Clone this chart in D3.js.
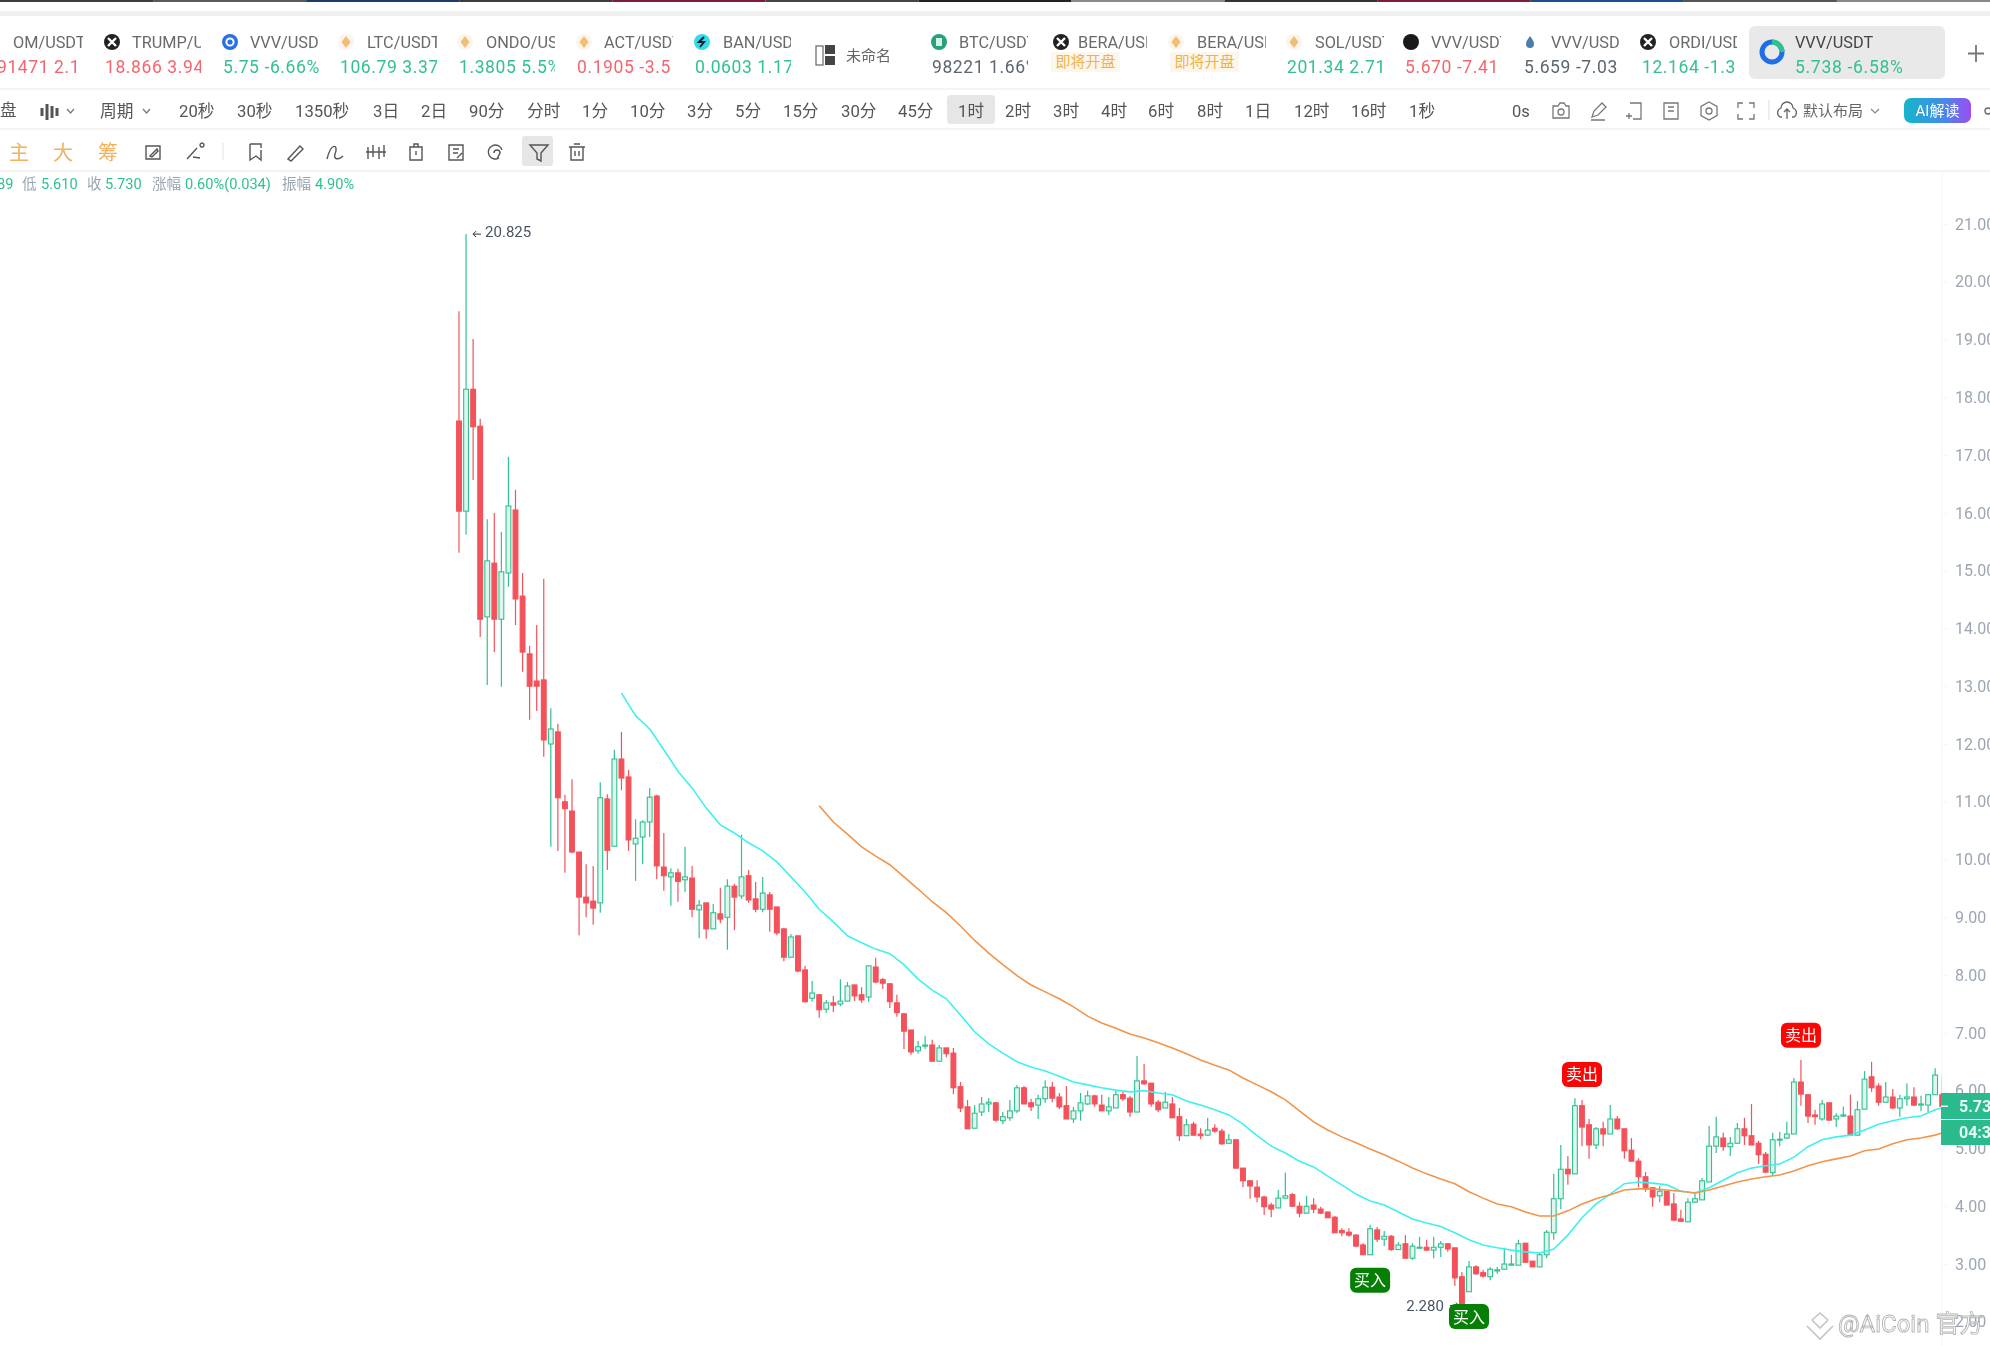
<!DOCTYPE html>
<html>
<head>
<meta charset="utf-8">
<script src="https://cdn.jsdelivr.net/npm/d3@7"></script>
<style>
html, body { margin: 0; padding: 0; background: #fff; overflow: hidden; }
svg { display: block; filter: blur(0.4px); font-family: Roboto, "Noto Sans CJK SC", sans-serif; }
</style>
</head>
<body>
<script>
// 1 hour candles, [open, high, low, close]
var candles = [
[17.59,19.49,15.31,16.03],[16.03,20.825,15.62,18.14],[18.14,19.01,16.57,17.49],[17.50,17.63,13.85,14.16],
[14.20,15.89,13.02,15.17],[15.13,16.00,13.59,14.16],[14.16,15.67,12.99,14.98],[14.96,16.97,14.72,16.12],
[16.05,16.40,14.06,14.51],[14.56,14.96,13.25,13.59],[13.56,13.70,12.42,13.00],[13.09,14.06,12.57,13.00],
[13.11,14.86,11.78,12.07],[12.00,12.62,10.22,12.26],[12.21,12.35,10.15,11.07],[11.00,11.12,9.77,10.88],
[10.84,11.39,10.11,10.13],[10.13,10.13,8.69,9.35],[9.35,9.92,9.00,9.25],[9.28,9.89,8.87,9.16],
[9.25,11.34,9.08,11.07],[11.05,11.13,9.82,10.16],[10.23,11.90,10.23,11.74],[11.74,12.21,11.20,11.41],
[11.43,11.55,10.15,10.34],[10.27,10.70,9.63,10.37],[10.39,10.68,9.92,10.65],[10.65,11.24,10.39,11.08],
[11.10,11.12,9.66,9.89],[9.87,10.46,9.46,9.72],[9.70,9.85,9.20,9.77],[9.77,9.84,9.27,9.62],
[9.65,10.22,9.44,9.70],[9.68,9.89,9.00,9.14],[9.13,9.30,8.64,9.21],[9.25,9.25,8.63,8.80],
[8.80,9.23,8.80,9.08],[9.06,9.51,8.90,8.97],[9.00,9.66,8.44,9.54],[9.54,9.58,8.78,9.35],
[9.37,10.43,9.32,9.70],[9.72,9.82,9.25,9.30],[9.32,9.61,9.09,9.14],[9.14,9.70,9.09,9.42],
[9.39,9.44,8.75,9.14],[9.18,9.18,8.69,8.73],[8.80,8.82,8.24,8.31],[8.31,8.71,8.31,8.66],
[8.68,8.68,8.05,8.07],[8.09,8.16,7.52,7.54],[7.60,7.90,7.54,7.69],[7.66,7.66,7.26,7.40],
[7.41,7.57,7.35,7.52],[7.52,7.64,7.36,7.48],[7.50,7.93,7.46,7.55],[7.55,7.88,7.55,7.81],
[7.83,7.83,7.55,7.64],[7.66,7.79,7.52,7.57],[7.62,8.16,7.54,8.16],[8.14,8.30,7.86,7.88],
[7.92,7.95,7.76,7.86],[7.85,7.86,7.43,7.54],[7.52,7.66,7.28,7.35],[7.33,7.35,6.72,7.03],
[7.05,7.05,6.62,6.67],[6.69,6.86,6.64,6.76],[6.77,6.95,6.72,6.79],[6.79,6.88,6.51,6.51],
[6.51,6.79,6.51,6.74],[6.74,6.74,6.58,6.64],[6.65,6.74,5.94,6.05],[6.07,6.15,5.63,5.70],
[5.72,5.84,5.34,5.34],[5.35,5.75,5.35,5.61],[5.63,5.89,5.56,5.77],[5.77,5.87,5.63,5.80],
[5.79,5.80,5.46,5.49],[5.48,5.63,5.42,5.55],[5.53,5.84,5.48,5.65],[5.65,6.10,5.61,6.05],
[6.05,6.08,5.77,5.77],[5.79,5.86,5.65,5.72],[5.75,5.93,5.51,5.86],[5.86,6.18,5.79,6.06],
[6.06,6.15,5.80,5.87],[5.89,5.96,5.68,5.72],[5.74,6.08,5.51,5.51],[5.51,5.72,5.44,5.65],
[5.65,5.96,5.48,5.79],[5.77,6.00,5.75,5.91],[5.91,5.93,5.72,5.77],[5.75,5.93,5.65,5.65],
[5.65,5.89,5.58,5.72],[5.70,6.00,5.70,5.93],[5.93,5.98,5.82,5.86],[5.87,5.91,5.55,5.63],
[5.63,6.60,5.63,6.17],[6.17,6.46,6.10,6.12],[6.13,6.13,5.72,5.77],[5.80,5.84,5.63,5.67],
[5.70,5.98,5.70,5.80],[5.77,5.89,5.53,5.53],[5.55,5.70,5.13,5.22],[5.22,5.51,5.22,5.41],
[5.42,5.46,5.22,5.23],[5.25,5.35,5.16,5.22],[5.23,5.53,5.22,5.32],[5.35,5.42,5.27,5.30],
[5.30,5.34,5.06,5.08],[5.09,5.25,5.09,5.15],[5.15,5.15,4.65,4.66],[4.66,4.66,4.33,4.44],
[4.44,4.45,4.13,4.35],[4.33,4.45,4.07,4.16],[4.16,4.18,3.85,3.99],[4.02,4.06,3.81,3.95],
[3.97,4.28,3.97,4.14],[4.14,4.58,4.14,4.18],[4.20,4.23,3.99,4.00],[4.00,4.07,3.81,3.88],
[3.88,4.18,3.88,4.00],[4.02,4.14,3.88,3.95],[3.95,3.99,3.87,3.88],[3.90,3.90,3.80,3.80],
[3.81,3.83,3.54,3.54],[3.58,3.62,3.48,3.54],[3.55,3.62,3.47,3.50],[3.50,3.52,3.29,3.31],
[3.33,3.36,3.16,3.16],[3.16,3.68,3.16,3.61],[3.59,3.64,3.38,3.43],[3.43,3.57,3.31,3.48],
[3.48,3.50,3.23,3.25],[3.25,3.38,3.25,3.33],[3.35,3.50,3.10,3.10],[3.10,3.36,3.07,3.31],
[3.28,3.47,3.28,3.29],[3.29,3.42,3.23,3.24],[3.24,3.47,3.10,3.29],[3.29,3.40,3.12,3.35],
[3.35,3.36,3.21,3.26],[3.28,3.28,2.62,2.76],[2.78,2.86,2.28,2.31],[2.52,3.05,2.52,2.95],
[2.95,2.98,2.81,2.83],[2.85,2.90,2.76,2.79],[2.78,2.95,2.72,2.91],[2.88,2.95,2.83,2.90],
[2.91,3.28,2.91,3.00],[2.98,3.16,2.98,3.00],[2.98,3.42,2.98,3.35],[3.36,3.36,3.03,3.03],
[3.05,3.05,2.95,2.95],[2.95,3.19,2.95,3.16],[3.16,3.59,3.10,3.55],[3.54,4.56,3.42,4.13],
[4.13,5.06,3.95,4.64],[4.64,4.87,4.37,4.56],[4.56,5.87,4.56,5.74],[5.74,5.84,5.04,5.37],
[5.41,5.51,4.82,5.06],[5.06,5.37,4.99,5.34],[5.34,5.46,5.04,5.25],[5.25,5.75,5.25,5.51],
[5.51,5.56,5.32,5.34],[5.34,5.34,4.82,4.96],[4.97,5.18,4.77,4.78],[4.78,4.83,4.33,4.51],
[4.51,4.59,4.25,4.30],[4.32,4.33,3.99,4.16],[4.18,4.35,4.07,4.26],[4.26,4.26,4.02,4.02],
[4.04,4.23,3.74,3.76],[3.78,3.94,3.73,3.74],[3.73,4.14,3.73,4.07],[4.07,4.25,4.06,4.13],
[4.11,4.49,4.11,4.44],[4.42,5.39,4.42,5.04],[5.04,5.55,4.92,5.20],[5.18,5.27,4.96,5.03],
[5.03,5.20,4.87,5.09],[5.09,5.44,5.09,5.34],[5.34,5.53,5.06,5.22],[5.22,5.77,5.06,5.06],
[5.09,5.13,4.73,4.89],[4.90,4.94,4.58,4.59],[4.58,5.27,4.52,5.15],[5.15,5.29,5.04,5.16],
[5.18,5.46,5.16,5.25],[5.25,6.22,5.25,6.15],[6.15,6.53,5.74,5.94],[5.93,5.94,5.44,5.56],
[5.58,5.67,5.41,5.55],[5.51,5.84,5.48,5.77],[5.79,5.79,5.48,5.49],[5.51,5.61,5.37,5.56],
[5.56,5.72,5.55,5.58],[5.56,5.93,5.23,5.23],[5.23,5.82,5.22,5.67],[5.68,6.34,5.68,6.20],
[6.24,6.50,5.98,6.05],[6.08,6.13,5.74,5.80],[5.80,6.15,5.80,5.89],[5.89,6.03,5.68,5.70],
[5.70,5.93,5.55,5.86],[5.86,6.13,5.74,5.89],[5.89,6.06,5.74,5.75],[5.75,5.91,5.65,5.77],
[5.75,5.94,5.63,5.93],[5.93,6.39,5.93,6.27],[5.93,6.25,5.61,5.73]
];

// moving averages, one reading every second candle
var fastStart = 23;
var fastValues = [12.88,12.49,12.26,11.90,11.53,11.24,10.89,10.60,10.46,10.29,10.15,9.96,9.70,9.44,9.14,8.92,8.68,8.56,8.45,8.37,
8.18,7.93,7.74,7.59,7.31,7.02,6.81,6.65,6.50,6.41,6.34,6.25,6.15,6.10,6.05,6.01,5.98,6.00,5.96,5.93,
5.82,5.75,5.67,5.58,5.42,5.22,5.04,4.92,4.78,4.68,4.52,4.37,4.21,4.09,4.02,3.90,3.78,3.71,3.65,3.54,
3.42,3.33,3.28,3.24,3.21,3.19,3.26,3.50,3.80,4.04,4.21,4.39,4.42,4.40,4.37,4.26,4.23,4.32,4.45,4.58,
4.66,4.70,4.73,4.85,5.03,5.15,5.20,5.23,5.32,5.42,5.48,5.53,5.56,5.67];
var slowStart = 51;
var slowValues = [10.93,10.65,10.44,10.22,10.06,9.91,9.70,9.49,9.27,9.08,8.85,8.60,8.38,8.18,7.99,7.83,7.71,7.59,7.45,7.29,
7.17,7.08,6.98,6.91,6.83,6.74,6.64,6.53,6.44,6.36,6.22,6.10,5.98,5.84,5.65,5.46,5.32,5.20,5.10,4.99,
4.89,4.78,4.66,4.56,4.47,4.39,4.25,4.14,4.04,3.99,3.90,3.83,3.83,3.92,4.04,4.13,4.20,4.28,4.30,4.30,
4.28,4.26,4.23,4.28,4.35,4.42,4.47,4.51,4.54,4.61,4.70,4.77,4.82,4.87,4.96,4.99,5.08,5.15,5.18,5.23];
var lastFast = 5.70, lastSlow = 5.27;

var priceTicks = [21,20,19,18,17,16,15,14,13,12,11,10,9,8,7,6,5,4,3,2];

// buy / sell flags
var signalIdx = [129, 143, 159, 190];
var signalPrice = [2.72, 2.09, 6.28, 6.96];
var signalText = ["买入", "买入", "卖出", "卖出"];

var highPoint = 1, lowPoint = 142;
var lastPriceLabel = "5.730", countdownLabel = "04:33";

// quote tabs
var tabNames = ["OM/USDT","TRUMP/USDT","VVV/USDT","LTC/USDT","ONDO/USDT","ACT/USDT","BAN/USDT","BTC/USDT","BERA/USDT","BERA/USDT","SOL/USDT","VVV/USDT","VVV/USDT","ORDI/USDT"];
var tabQuotes = ["91471 2.1","18.866 3.94","5.75 -6.66%","106.79 3.37","1.3805 5.5%","0.1905 -3.5","0.0603 1.17","98221 1.66%","","","201.34 2.71","5.670 -7.41","5.659 -7.03","12.164 -1.3"];
var tabTones = ["r","r","g","g","g","r","g","k","","","g","r","k","g"];
var tabIconX = [-8,112,230,346,465,584,702,939,1061,1176,1294,1411,1530,1648];
var tabNameX = [13,132,250,367,486,604,723,959,1078,1197,1315,1431,1551,1669];
var tabValueX = [-3,105,223,340,459,577,695,932,0,0,1287,1405,1524,1642];
var tabEndX = [83,201,319,437,555,673,791,1028,1147,1266,1384,1501,1619,1737];
var tabIconKind = ["d","k","b","d","d","d","t","v","k","d","d","n","w","k"];

var periods = ["周期","20秒","30秒","1350秒","3日","2日","90分","分时","1分","10分","3分","5分","15分","30分","45分","1时","2时","3时","4时","6时","8时","1日","12时","16时","1秒"];
var periodX = [100,179,237,295,373,421,469,527,582,630,687,735,783,841,898,958,1005,1053,1101,1148,1197,1245,1294,1351,1409];

var width = 1990, height = 1346;
var red = "#f3525b", green = "#31c191", grayText = "#69727d", tickGray = "#9ba6b2";

var svg = d3.select("body").append("svg")
  .attr("width", width)
  .attr("height", height);

// scales
var x = d3.scaleLinear().domain([0, 210]).range([459, 1942.2]);
var y = d3.scaleLinear().domain([3, 21]).range([1264, 224]);

// ---- page chrome ----
var stripColors = ["#3c3c3c","#5a5a5a","#1e3a6b","#3c3c3c","#7a1d3a","#444","#222","#8a8a8a","#333","#7a1d3a","#1e4f8a","#555","#888"];
svg.selectAll("rect.strip").data(stripColors).enter().append("rect")
  .attr("class", "strip")
  .attr("x", function(d, i) { return i * width / stripColors.length; })
  .attr("y", 0)
  .attr("width", width / stripColors.length)
  .attr("height", 2)
  .attr("fill", function(d) { return d; });

svg.append("rect").attr("x", 0).attr("y", 11).attr("width", width).attr("height", 5).attr("fill", "#f0f0f0");
[89, 129, 171].forEach(function(v) {
  svg.append("line").attr("x1", 0).attr("x2", width).attr("y1", v).attr("y2", v)
    .attr("stroke", "#f1f1f1").attr("stroke-width", 1.5);
});

var defs = svg.append("defs");
var aiGrad = defs.append("linearGradient").attr("id", "aiGrad");
aiGrad.append("stop").attr("offset", "0%").attr("stop-color", "#16b5c9");
aiGrad.append("stop").attr("offset", "55%").attr("stop-color", "#3f8fe8");
aiGrad.append("stop").attr("offset", "100%").attr("stop-color", "#9b4df0");

function tabIcon(kind, cx, cy) {
  var g = svg.append("g").attr("transform", "translate(" + cx + "," + cy + ")");
  if (kind == "d") {
    g.append("circle").attr("r", 8).attr("fill", "#faf6ee");
    g.append("path").attr("d", "M0,-6L4.5,0L0,6L-4.5,0Z").attr("fill", "#f3bd75");
  } else if (kind == "k") {
    g.append("circle").attr("r", 8).attr("fill", "#222");
    g.append("path").attr("d", "M-4,-4L4,4M4,-4L-4,4").attr("stroke", "#fff").attr("stroke-width", 2.4);
  } else if (kind == "b") {
    g.append("circle").attr("r", 8).attr("fill", "#2a6ee8");
    g.append("circle").attr("r", 3.6).attr("fill", "none").attr("stroke", "#fff").attr("stroke-width", 2);
  } else if (kind == "t") {
    g.append("circle").attr("r", 8).attr("fill", "#37dbe6");
    g.append("path").attr("d", "M2,-5L-3,0L2,0L-2,5").attr("stroke", "#123").attr("stroke-width", 2).attr("fill", "none");
  } else if (kind == "v") {
    g.append("circle").attr("r", 8).attr("fill", "#26a17b");
    g.append("rect").attr("x", -3).attr("y", -4).attr("width", 6).attr("height", 8).attr("fill", "#d6f2e8");
  } else if (kind == "n") {
    g.append("circle").attr("r", 8).attr("fill", "#1a1a1a");
  } else {
    g.append("path").attr("d", "M0,-6C3,-2 4,0 4,2A4,4 0 0 1 -4,2C-4,0 -3,-2 0,-6Z").attr("fill", "#4d7fa8");
  }
}

var toneColor = { r: "#f4666f", g: "#33c093", k: "#5c6670" };
tabNames.forEach(function(name, i) {
  var clipId = "tabclip" + i;
  var clipX = tabQuotes[i] ? Math.min(tabNameX[i], tabValueX[i]) : tabNameX[i];
  defs.append("clipPath").attr("id", clipId).append("rect")
    .attr("x", clipX)
    .attr("y", 20).attr("width", tabEndX[i] - clipX).attr("height", 60);
  tabIcon(tabIconKind[i], tabIconX[i], 42);
  svg.append("text").attr("x", tabNameX[i]).attr("y", 48).attr("clip-path", "url(#" + clipId + ")")
    .attr("font-size", 16.3).attr("fill", "#6a6a6a").text(name);
  if (tabQuotes[i]) {
    svg.append("text").attr("x", tabValueX[i]).attr("y", 73).attr("clip-path", "url(#" + clipId + ")")
      .attr("font-size", 17.5).attr("letter-spacing", 0.6).attr("fill", toneColor[tabTones[i]]).text(tabQuotes[i]);
  } else {
    var bx = tabIconX[i] - (i == 8 ? 10 : 6);
    svg.append("rect").attr("x", bx).attr("y", 52).attr("width", 69).attr("height", 20).attr("fill", "#fdf6ea");
    svg.append("text").attr("x", bx + 34.5).attr("y", 67).attr("text-anchor", "middle")
      .attr("font-size", 15).attr("fill", "#f0b24b").text("即将开盘");
  }
});

// layout tab
svg.append("rect").attr("x", 816).attr("y", 46).attr("width", 7).attr("height", 19).attr("fill", "none").attr("stroke", "#666").attr("stroke-width", 1.2);
svg.append("rect").attr("x", 825).attr("y", 45).attr("width", 10).attr("height", 9).attr("fill", "#444");
svg.append("rect").attr("x", 825).attr("y", 56).attr("width", 10).attr("height", 9).attr("fill", "#444");
svg.append("text").attr("x", 846).attr("y", 61).attr("font-size", 15).attr("fill", "#666").text("未命名");

// active tab
svg.append("rect").attr("x", 1749).attr("y", 26).attr("width", 196).attr("height", 53).attr("rx", 6).attr("fill", "#e9e9e9");
svg.append("circle").attr("cx", 1772).attr("cy", 52).attr("r", 10).attr("fill", "none").attr("stroke", "#1f6ee8").attr("stroke-width", 5);
svg.append("path").attr("d", "M1772,42A10,10 0 0 1 1782,52").attr("fill", "none").attr("stroke", "#2fc28f").attr("stroke-width", 5);
svg.append("text").attr("x", 1795).attr("y", 48).attr("font-size", 16.3).attr("fill", "#444").text("VVV/USDT");
svg.append("text").attr("x", 1795).attr("y", 73).attr("font-size", 17.5).attr("letter-spacing", 0.7).attr("fill", "#33c093").text("5.738 -6.58%");
svg.append("path").attr("d", "M1976,45V62M1968,53.5H1984").attr("stroke", "#777").attr("stroke-width", 1.8);

// period row
svg.append("text").attr("x", 0).attr("y", 116).attr("font-size", 16.5).attr("fill", "#555").text("盘");
svg.append("path").attr("d", "M42,108V116M47,104V120M52,106V118M57,108V116").attr("stroke", "#555").attr("stroke-width", 3);
svg.append("path").attr("d", "M67,109L70.5,113L74,109M143,109L146.5,113L150,109").attr("stroke", "#777").attr("stroke-width", 1.2).attr("fill", "none");
svg.append("rect").attr("x", 947).attr("y", 95).attr("width", 48).attr("height", 29).attr("rx", 4).attr("fill", "#e6e6e6");
svg.selectAll("text.period").data(periods).enter().append("text")
  .attr("class", "period")
  .attr("x", function(d, i) { return periodX[i]; })
  .attr("y", 117)
  .attr("font-size", 16.7)
  .attr("fill", "#555")
  .text(function(d) { return d; });

svg.append("text").attr("x", 1512).attr("y", 117).attr("font-size", 16.5).attr("fill", "#555").text("0s");
var rightIcons = [
  [1561, "M-8,-5H-3L-1,-8H3L5,-5H8V7H-8ZM3,1A3,3 0 1 1 -3,1A3,3 0 1 1 3,1"],
  [1599, "M-7,6L-5,0L3,-8L7,-4L-1,4ZM-8,9H6"],
  [1634, "M-4,-8H7V8H-1M-8,5H-2M-5,2V8"],
  [1671, "M-7,-8H7V8H-7ZM-3,-4H3M-3,0H3"],
  [1709, "M0,-9L8,-4.5V4.5L0,9L-8,4.5V-4.5ZM3,0A3,3 0 1 1 -3,0A3,3 0 1 1 3,0"],
  [1746, "M-8,-3V-8H-3M3,-8H8V-3M8,3V8H3M-3,8H-8V3"]
];
rightIcons.forEach(function(d) {
  svg.append("path").attr("transform", "translate(" + d[0] + ",111)").attr("d", d[1])
    .attr("fill", "none").attr("stroke", "#777").attr("stroke-width", 1.3);
});
svg.append("line").attr("x1", 1769).attr("x2", 1769).attr("y1", 100).attr("y2", 120).attr("stroke", "#ddd");
svg.append("path").attr("transform", "translate(1787,111)").attr("d", "M-5,6H-7A5,5 0 0 1 -6,-3A6,6 0 0 1 6,-3A5,5 0 0 1 7,6H5M0,8V-2M-3,1L0,-2L3,1")
  .attr("fill", "none").attr("stroke", "#666").attr("stroke-width", 1.3);
svg.append("text").attr("x", 1803).attr("y", 116).attr("font-size", 15).attr("fill", "#666").text("默认布局");
svg.append("path").attr("d", "M1871,109L1875,113L1879,109").attr("stroke", "#888").attr("stroke-width", 1.2).attr("fill", "none");
svg.append("rect").attr("x", 1904).attr("y", 98).attr("width", 67).attr("height", 25).attr("rx", 7).attr("fill", "url(#aiGrad)");
svg.append("text").attr("x", 1937.5).attr("y", 116).attr("text-anchor", "middle").attr("font-size", 15).attr("fill", "#fff").text("AI解读");
svg.append("circle").attr("cx", 1988).attr("cy", 111).attr("r", 3).attr("fill", "none").attr("stroke", "#666").attr("stroke-width", 1.3);

// drawing tools row
[["主",9],["大",53],["筹",98]].forEach(function(d) {
  svg.append("text").attr("x", d[1]).attr("y", 160).attr("font-size", 20).attr("fill", "#efb25f").text(d[0]);
});
svg.append("rect").attr("x", 522).attr("y", 136).attr("width", 31).attr("height", 30).attr("rx", 3).attr("fill", "#e6e6e6");
svg.append("line").attr("x1", 223).attr("x2", 223).attr("y1", 143).attr("y2", 160).attr("stroke", "#e2e2e2");
var toolIcons = [
  [153, "M-7,-6H7V7H-7ZM-3,4L4,-3L5,-1L-1,5Z"],
  [195, "M-8,7L2,-4M5,-7A2,2 0 1 1 5,-6.9M-2,5L5,6"],
  [255, "M-5,-8H6V-4M-5,-8V8L1,4L6,8V-2"],
  [295, "M-7,7L5,-6L8,-3L-4,9Z"],
  [335, "M-8,7C-4,-10 4,-8 0,2C-2,8 4,8 8,4"],
  [376, "M-8,-5V7M-3,-7V5M3,-5V7M8,-7V5M-10,0H10"],
  [416, "M-6,-5H6V8H-6ZM-2,-5V-8H2V-5M0,-1V3"],
  [456, "M-7,-7H7V8H-7ZM-3,-3H3M-3,1H2M1,6L6,1"],
  [496, "M6,-2A7,7 0 1 0 3,6M-2,1A3,3 0 1 1 4,1L1,7"],
  [539, "M-9,-7H9L2,1V9L-2,7V1Z"],
  [577, "M-6,-5H6V8H-6ZM-8,-5H8M-3,-8H3M-2,-1V4M2,-1V4"]
];
toolIcons.forEach(function(d) {
  svg.append("path").attr("transform", "translate(" + d[0] + ",152)").attr("d", d[1])
    .attr("fill", "none").attr("stroke", "#555").attr("stroke-width", 1.4);
});

// ohlc readout
var infoParts = [["89",-3,green],["低",22,tickGray],["5.610",41,green],["收",87,tickGray],["5.730",105,green],
  ["涨幅",152,tickGray],["0.60%(0.034)",185,green],["振幅",282,tickGray],["4.90%",315,green]];
infoParts.forEach(function(d) {
  svg.append("text").attr("x", d[1]).attr("y", 189).attr("font-size", 14.6).attr("fill", d[2]).text(d[0]);
});

// ---- chart ----
defs.append("clipPath").attr("id", "plot").append("rect")
  .attr("x", 0).attr("y", 172).attr("width", 1942).attr("height", height - 172);

var plot = svg.append("g").attr("clip-path", "url(#plot)");

var bars = plot.selectAll("g.candle").data(candles).enter().append("g").attr("class", "candle");

bars.append("line")
  .attr("x1", function(d, i) { return x(i); })
  .attr("x2", function(d, i) { return x(i); })
  .attr("y1", function(d) { return y(d[1]); })
  .attr("y2", function(d) { return y(d[2]); })
  .attr("stroke", function(d) { return d[3] >= d[0] ? green : red; })
  .attr("stroke-width", 1.2);

bars.append("rect")
  .attr("x", function(d, i) { return x(i) - 2.4; })
  .attr("y", function(d) { return y(Math.max(d[0], d[3])); })
  .attr("width", 4.8)
  .attr("height", function(d) { return Math.max(1, Math.abs(y(d[0]) - y(d[3]))); })
  .attr("fill", function(d) { return d[3] >= d[0] ? "#dff6ee" : red; })
  .attr("stroke", function(d) { return d[3] >= d[0] ? green : red; })
  .attr("stroke-width", 1.1);

var maLine = d3.line()
  .x(function(d) { return x(d[0]); })
  .y(function(d) { return y(d[1]); });

var fastPts = fastValues.map(function(v, i) { return [fastStart + i * 2, v]; }).concat([[210, lastFast]]);
var slowPts = slowValues.map(function(v, i) { return [slowStart + i * 2, v]; }).concat([[210, lastSlow]]);

plot.append("path").attr("d", maLine(fastPts)).attr("fill", "none").attr("stroke", "#3ff0f0").attr("stroke-width", 1.6);
plot.append("path").attr("d", maLine(slowPts)).attr("fill", "none").attr("stroke", "#f2944a").attr("stroke-width", 1.6);

// high / low markers
svg.append("path")
  .attr("d", "M" + (x(highPoint) + 15) + "," + y(candles[highPoint][1]) + "H" + (x(highPoint) + 7) + "M" + (x(highPoint) + 10) + "," + (y(candles[highPoint][1]) - 3) + "L" + (x(highPoint) + 7) + "," + y(candles[highPoint][1]) + "L" + (x(highPoint) + 10) + "," + (y(candles[highPoint][1]) + 3))
  .attr("fill", "none").attr("stroke", "#333").attr("stroke-width", 1);
svg.append("text").attr("x", x(highPoint) + 19).attr("y", y(candles[highPoint][1]) + 3)
  .attr("font-size", 15).attr("fill", "#4a5563").text("20.825");

svg.append("path")
  .attr("d", "M" + (x(lowPoint) - 12) + "," + y(candles[lowPoint][2]) + "H" + (x(lowPoint) - 3) + "M" + (x(lowPoint) - 6) + "," + (y(candles[lowPoint][2]) - 3) + "L" + (x(lowPoint) - 3) + "," + y(candles[lowPoint][2]) + "L" + (x(lowPoint) - 6) + "," + (y(candles[lowPoint][2]) + 3))
  .attr("fill", "none").attr("stroke", "#333").attr("stroke-width", 1);
svg.append("text").attr("x", x(lowPoint) - 18).attr("y", y(candles[lowPoint][2]) + 5).attr("text-anchor", "end")
  .attr("font-size", 15).attr("fill", "#4a5563").text("2.280");

// buy / sell flags
signalIdx.forEach(function(s, i) {
  var isBuy = signalText[i] == "买入";
  svg.append("rect")
    .attr("x", x(s) - 20).attr("y", y(signalPrice[i]) - 12.5)
    .attr("width", 40).attr("height", 25).attr("rx", 6)
    .attr("fill", isBuy ? "#058005" : "#fb0505");
  svg.append("text")
    .attr("x", x(s)).attr("y", y(signalPrice[i]) + 6)
    .attr("text-anchor", "middle").attr("font-size", 16).attr("fill", "#fff")
    .text(signalText[i]);
});

// price axis
var axis = d3.axisRight(y)
  .tickValues(priceTicks)
  .tickSize(6)
  .tickPadding(7)
  .tickFormat(d3.format(".2f"));

var axisG = svg.append("g").attr("transform", "translate(1942,0)").call(axis);
axisG.select(".domain").remove();
axisG.selectAll("line").attr("stroke", "#f4f7f7");
axisG.selectAll("text").attr("fill", tickGray).attr("font-size", 16).attr("font-family", "Roboto, sans-serif");
svg.append("line").attr("x1", 1942).attr("x2", 1942).attr("y1", 172).attr("y2", height).attr("stroke", "#f4f7f7");

// last price and countdown
svg.append("rect").attr("x", 1941).attr("y", 1093).attr("width", 49).attr("height", 26).attr("fill", "#2bb98e");
svg.append("rect").attr("x", 1941).attr("y", 1120).attr("width", 49).attr("height", 25).attr("fill", "#2bb98e");
svg.append("line").attr("x1", 1941).attr("x2", 1948).attr("y1", y(5.73)).attr("y2", y(5.73)).attr("stroke", "#fff").attr("stroke-width", 1.3);
svg.append("text").attr("x", 1959).attr("y", 1112).attr("font-size", 16).attr("font-weight", 700).attr("fill", "#eafaf5").text(lastPriceLabel);
svg.append("text").attr("x", 1959).attr("y", 1138).attr("font-size", 16).attr("font-weight", 700).attr("fill", "#eafaf5").text(countdownLabel);

// watermark
svg.append("path").attr("d", "M1807,1326L1820,1339L1833,1326M1812,1320L1820,1328L1828,1320M1812,1320L1820,1313L1828,1320")
  .attr("fill", "none").attr("stroke", "#c4c4c4").attr("stroke-width", 1.6);
svg.append("text").attr("x", 1838).attr("y", 1332).attr("font-size", 24)
  .attr("fill", "rgba(255,255,255,0.55)").attr("stroke", "#b5b5b5").attr("stroke-width", 0.9)
  .text("@AiCoin 官方");
</script>
</body>
</html>
